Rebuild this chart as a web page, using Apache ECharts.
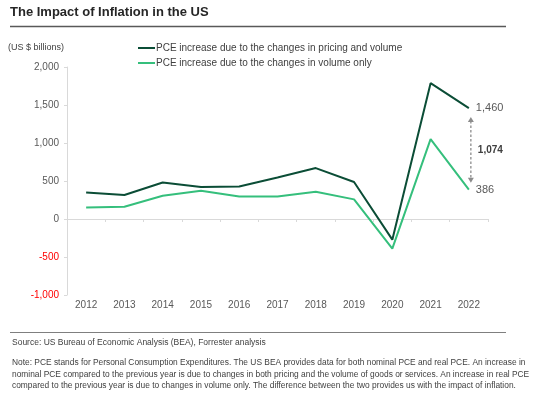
<!DOCTYPE html>
<html><head><meta charset="utf-8">
<script src="https://cdn.jsdelivr.net/npm/echarts@6/dist/echarts.min.js"></script>
<style>html,body{margin:0;padding:0;background:#fff}#c{width:548px;height:397px}</style>
</head><body><div id="c"></div>
<script>
const years = ['2012','2013','2014','2015','2016','2017','2018','2019','2020','2021','2022'];
const pricingAndVolume = [350, 315, 481, 420, 428, 547, 670, 486, -272, 1787, 1460];
const volumeOnly = [152, 162, 306, 372, 297, 297, 359, 258, -390, 1051, 386];
const seriesNames = ['PCE increase due to the changes in pricing and volume','PCE increase due to the changes in volume only'];
const yTicks = {min: -1000, max: 2000, interval: 500};

const FONT = '"Liberation Sans", Arial, sans-serif';
const fmt = v => Math.round(v).toLocaleString('en-US');
const chart = echarts.init(document.getElementById('c'), null, {renderer: 'canvas'});
const option = {
  animation: false,
  textStyle: {fontFamily: FONT},
  grid: {left: 67, right: 60, top: 67, bottom: 102, containLabel: false},
  legend: {
    left: 133, top: 38, orient: 'vertical', itemGap: 5, itemWidth: 17, itemHeight: 10,
    textStyle: {fontFamily: FONT, fontSize: 10, color: '#404040', padding: [0,0,0,-4]},
    data: [
      {name: seriesNames[0], icon: 'path://M0,4 L17,4 L17,6 L0,6 Z'},
      {name: seriesNames[1], icon: 'path://M0,4 L17,4 L17,6 L0,6 Z'}
    ]
  },
  xAxis: [
    {
      type: 'category', data: years, boundaryGap: true,
      axisLine: {onZero: true, lineStyle: {color: '#d9d9d9', width: 1}},
      axisTick: {show: true, length: 3, lineStyle: {color: '#d9d9d9'}},
      axisLabel: {show: false}
    },
    {
      type: 'category', data: years, boundaryGap: true, position: 'bottom',
      axisLine: {show: false, onZero: false},
      axisTick: {show: false},
      axisLabel: {margin: 5, fontFamily: FONT, fontSize: 10, color: '#595959'}
    }
  ],
  yAxis: {
    type: 'value', min: yTicks.min, max: yTicks.max, interval: yTicks.interval,
    splitLine: {show: false},
    axisLine: {show: true, lineStyle: {color: '#d9d9d9'}},
    axisTick: {show: true, length: 3, lineStyle: {color: '#d9d9d9'}},
    axisLabel: {
      margin: 8, fontFamily: FONT, fontSize: 10,
      formatter: v => fmt(v),
      color: v => (Number(v) < 0 ? '#ff0000' : '#595959')
    }
  },
  series: [
    {
      name: seriesNames[0], type: 'line', data: pricingAndVolume, symbol: 'none',
      lineStyle: {color: '#0b4d36', width: 2}, itemStyle: {color: '#0b4d36'},
      endLabel: {show: true, formatter: p => fmt(p.value), color: '#595959', fontSize: 11, fontFamily: FONT, distance: 7}
    },
    {
      name: seriesNames[1], type: 'line', data: volumeOnly, symbol: 'none',
      lineStyle: {color: '#35bf7c', width: 2}, itemStyle: {color: '#35bf7c'},
      endLabel: {show: true, formatter: p => fmt(p.value), color: '#595959', fontSize: 11, fontFamily: FONT, distance: 7}
    }
  ],
  graphic: []
};
chart.setOption(option);

// annotation arrow computed from the data
const last = years.length - 1;
const pTop = chart.convertToPixel({xAxisIndex: 0, yAxisIndex: 0}, [last, pricingAndVolume[last]]);
const pBot = chart.convertToPixel({xAxisIndex: 0, yAxisIndex: 0}, [last, volumeOnly[last]]);
const ax = pTop[0] + 2, y1 = pTop[1] + 9, y2 = pBot[1] - 7;
const diff = pricingAndVolume[last] - volumeOnly[last];
const g = [
  {type: 'text', left: 10, top: 6, style: {text: 'The Impact of Inflation in the US', font: 'bold 13px ' + FONT, fill: '#262626'}},
  {type: 'line', shape: {x1: 10, y1: 26.5, x2: 506, y2: 26.5}, style: {stroke: '#595959', lineWidth: 1.5}},
  {type: 'text', left: 8, top: 43, style: {text: '(US $ billions)', font: '9px ' + FONT, fill: '#404040'}},
  {type: 'line', shape: {x1: 10, y1: 332.5, x2: 506, y2: 332.5}, style: {stroke: '#7f7f7f', lineWidth: 1}},
  {type: 'text', left: 12, top: 338, style: {text: 'Source: US Bureau of Economic Analysis (BEA), Forrester analysis', font: '8.5px ' + FONT, fill: '#404040'}},
  {type: 'text', left: 12, top: 357, style: {text: 'Note: PCE stands for Personal Consumption Expenditures. The US BEA provides data for both nominal PCE and real PCE. An increase in\nnominal PCE compared to the previous year is due to changes in both pricing and the volume of goods or services. An increase in real PCE\ncompared to the previous year is due to changes in volume only. The difference between the two provides us with the impact of inflation.', font: '8.4px ' + FONT, fill: '#404040', lineHeight: 11.5}},
  {type: 'line', shape: {x1: ax, y1: y1 + 4, x2: ax, y2: y2 - 4}, style: {stroke: '#8c8c8c', lineWidth: 1.3, lineDash: [2.5, 2]}},
  {type: 'polygon', shape: {points: [[ax, y1], [ax - 3, y1 + 5], [ax + 3, y1 + 5]]}, style: {fill: '#8c8c8c'}},
  {type: 'polygon', shape: {points: [[ax, y2], [ax - 3, y2 - 5], [ax + 3, y2 - 5]]}, style: {fill: '#8c8c8c'}},
  {type: 'text', x: ax + 7, y: (y1 + y2) / 2, style: {text: fmt(diff), font: 'bold 10px ' + FONT, fill: '#404040', verticalAlign: 'middle'}}
];
chart.setOption({graphic: g});
</script>
</body></html>
